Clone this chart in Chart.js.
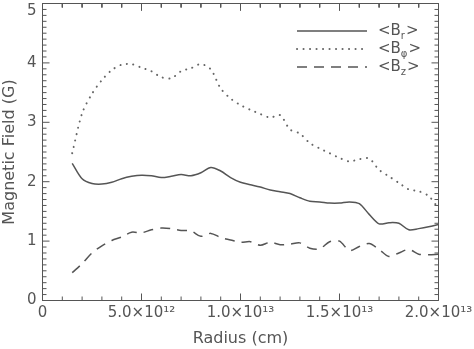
<!DOCTYPE html>
<html>
<head>
<meta charset="utf-8">
<script src="https://cdn.jsdelivr.net/npm/chart.js@4/dist/chart.umd.min.js"></script>
<style>
  html, body { margin: 0; padding: 0; background: #fff; }
  #wrap { width: 474px; height: 349px; position: relative; }
</style>
</head>
<body>
<div id="wrap"><canvas id="c" width="474" height="349"></canvas></div>
<script>
// Radius grid, in units of 1e12 cm
const radius = [1.5, 2.0, 2.5, 3.0, 3.5, 4.0, 4.5, 5.0, 5.5, 6.0, 6.5, 7.0, 7.5, 8.0, 8.5, 9.0, 9.5, 10.0,
  10.5, 11.0, 11.5, 12.0, 12.5, 13.0, 13.5, 14.0, 14.5, 15.0, 15.5, 16.0, 16.5, 17.0, 17.5, 18.0, 18.5,
  19.0, 19.5, 20.0];

// Mean field components (Gauss)
const bRadial = [2.31, 2.05, 1.97, 1.96, 1.99, 2.05, 2.09, 2.11, 2.10, 2.07, 2.09, 2.12, 2.10, 2.15, 2.24,
  2.18, 2.07, 1.99, 1.95, 1.91, 1.86, 1.83, 1.80, 1.73, 1.67, 1.66, 1.64, 1.64, 1.66, 1.63, 1.45, 1.29,
  1.31, 1.30, 1.19, 1.21, 1.24, 1.28];
const bAzimuthal = [2.48, 3.15, 3.48, 3.71, 3.88, 3.97, 3.98, 3.92, 3.86, 3.76, 3.74, 3.86, 3.91, 3.98, 3.89,
  3.57, 3.40, 3.29, 3.21, 3.14, 3.08, 3.12, 2.88, 2.81, 2.65, 2.56, 2.48, 2.40, 2.34, 2.38, 2.39, 2.20,
  2.09, 1.98, 1.87, 1.84, 1.76, 1.55];
const bVertical = [0.47, 0.62, 0.80, 0.92, 1.01, 1.07, 1.15, 1.14, 1.19, 1.22, 1.21, 1.18, 1.17, 1.08, 1.13,
  1.06, 1.02, 0.98, 0.99, 0.93, 0.98, 0.94, 0.95, 0.97, 0.88, 0.87, 0.99, 1.00, 0.84, 0.91, 0.96, 0.86,
  0.74, 0.80, 0.86, 0.78, 0.77, 0.78];

// Legend subscripts for <B_r>, <B_phi>, <B_z>
const componentSubscripts = ['r', 'φ', 'z'];

// Axis tick labels
const xTickValues = [0, 5e12, 1e13, 1.5e13, 2e13];
const xTickLabels = ['0', '5.0×10¹²', '1.0×10¹³', '1.5×10¹³', '2.0×10¹³'];
const yTickValues = [0, 1, 2, 3, 4, 5];
const yTickLabels = ['0', '1', '2', '3', '4', '5'];

const ink = '#555555';
const fontFamily = '"DejaVu Sans", "Liberation Sans", sans-serif';
const X_MAX = 2e13, Y_MAX = 5;

// Plot-area size in pixels, used to turn tick-mark lengths into axis units
const PLOT_W = 396, PLOT_H = 297;
const perPxX = X_MAX / PLOT_W, perPxY = Y_MAX / PLOT_H;

// Minor tick positions: every 1e12 cm along x, every 0.1 G along y
const xMinorTicks = Array.from({ length: 21 }, (_, i) => i * 1e12);
const yMinorTicks = Array.from({ length: 51 }, (_, i) => i / 10);

function toPoints(values) {
  return values.map((v, i) => ({ x: radius[i] * 1e12, y: v }));
}

// Closed box along the axis limits
function frameOutline() {
  return [{ x: 0, y: 0 }, { x: X_MAX, y: 0 }, { x: X_MAX, y: Y_MAX }, { x: 0, y: Y_MAX }, { x: 0, y: 0 }];
}

// Inward tick marks on all four sides, as separate short segments
function tickMarks() {
  const pts = [];
  const seg = (x1, y1, x2, y2) => { pts.push({ x: x1, y: y1 }, { x: x2, y: y2 }, { x: x2, y: null }); };
  xMinorTicks.forEach((v, i) => {
    const len = (i % 5 === 0 ? 7 : 4) * perPxY;
    seg(v, 0, v, len);
    seg(v, Y_MAX, v, Y_MAX - len);
  });
  yMinorTicks.forEach((v, i) => {
    const len = (i % 10 === 0 ? 7 : 4) * perPxX;
    seg(0, v, len, v);
    seg(X_MAX, v, X_MAX - len, v);
  });
  return pts;
}

// Line-style legend in the upper right
const sampleLegend = {
  id: 'sampleLegend',
  afterDraw(chart) {
    const { ctx } = chart;
    ctx.save();
    chart.data.datasets.filter(ds => ds.inLegend).forEach((ds, i) => {
      const yy = 31 + i * 18;
      ctx.strokeStyle = ds.borderColor;
      ctx.lineWidth = ds.borderWidth;
      ctx.lineCap = ds.borderCapStyle || 'butt';
      ctx.setLineDash(ds.borderDash || []);
      ctx.beginPath();
      ctx.moveTo(297, yy);
      ctx.lineTo(367, yy);
      ctx.stroke();
      ctx.setLineDash([]);
      ctx.fillStyle = ink;
      ctx.textBaseline = 'middle';
      ctx.textAlign = 'left';
      let tx = 378;
      ctx.font = '15px ' + fontFamily;
      ctx.fillText('<B', tx, yy);
      tx += ctx.measureText('<B').width;
      ctx.font = '10px ' + fontFamily;
      ctx.fillText(componentSubscripts[i], tx, yy + 5);
      tx += ctx.measureText(componentSubscripts[i]).width + 1;
      ctx.font = '15px ' + fontFamily;
      ctx.fillText('>', tx, yy);
    });
    ctx.restore();
  }
};

const labelFont = { family: fontFamily, size: 15, lineHeight: 1 };
const titleFont = { family: fontFamily, size: 16 };

new Chart(document.getElementById('c'), {
  type: 'line',
  data: {
    datasets: [
      { label: '<Br>', inLegend: true, data: toPoints(bRadial), borderColor: ink, borderWidth: 1.5, tension: 0.3 },
      { label: '<Bphi>', inLegend: true, data: toPoints(bAzimuthal), borderColor: '#666666', borderWidth: 2,
        borderDash: [0.1, 6.4], borderCapStyle: 'round', tension: 0.3 },
      { label: '<Bz>', inLegend: true, data: toPoints(bVertical), borderColor: ink, borderWidth: 1.5,
        borderDash: [10, 7], tension: 0.3 },
      { label: 'frame', data: frameOutline(), borderColor: ink, borderWidth: 1, tension: 0,
        clip: false, spanGaps: false },
      { label: 'ticks', data: tickMarks(), borderColor: ink, borderWidth: 1, tension: 0,
        clip: false, spanGaps: false }
    ]
  },
  options: {
    responsive: false,
    animation: false,
    layout: { padding: { top: 3.5, right: 35.5, bottom: 0, left: 0 } },
    elements: { point: { radius: 0 } },
    plugins: { legend: { display: false }, tooltip: { enabled: false } },
    scales: {
      x: {
        type: 'linear', min: 0, max: X_MAX,
        afterBuildTicks(scale) { scale.ticks = xTickValues.map(v => ({ value: v })); },
        afterFit(scale) { scale.height = 48.5; scale.paddingRight = 0; scale.paddingLeft = 0; },
        grid: { display: false, drawTicks: false }, border: { display: false },
        ticks: {
          color: ink, font: labelFont, padding: 5, maxRotation: 0, autoSkip: false,
          callback: (v) => xTickLabels[xTickValues.indexOf(v)]
        },
        title: { display: true, text: 'Radius (cm)', color: ink, font: titleFont, padding: { top: 0, bottom: 1 } }
      },
      y: {
        type: 'linear', min: 0, max: Y_MAX,
        afterBuildTicks(scale) { scale.ticks = yTickValues.map(v => ({ value: v })); },
        afterFit(scale) { scale.width = 42.5; scale.paddingTop = 0; scale.paddingBottom = 0; },
        grid: { display: false, drawTicks: false }, border: { display: false },
        ticks: {
          color: ink, font: labelFont, padding: 6, autoSkip: false,
          // the top label sits just below its tick so it stays inside the canvas
          callback: (v) => {
            const i = yTickValues.indexOf(v);
            return i === yTickValues.length - 1 ? ['', yTickLabels[i]] : yTickLabels[i];
          }
        },
        title: { display: true, text: 'Magnetic Field (G)', color: ink, font: titleFont, padding: { top: 0, bottom: 3 } }
      }
    }
  },
  plugins: [sampleLegend]
});
</script>
</body>
</html>
